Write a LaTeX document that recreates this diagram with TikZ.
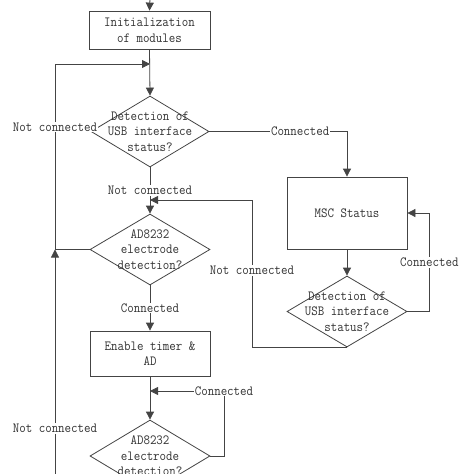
\documentclass[tikz,border=0pt]{standalone}
\usepackage{fontspec}
\newfontfamily\simfont[FakeStretch=0.9]{Latin Modern Mono}
\usetikzlibrary{arrows.meta,shapes.geometric}
\definecolor{ln}{HTML}{444444}
\definecolor{tx}{HTML}{333333}
\tikzset{
  every node/.style={font=\simfont\fontsize{14}{15.6}\selectfont, text=tx},
  box/.style={draw=ln, line width=0.8pt, rectangle, inner sep=0pt},
  dia/.style={draw=ln, line width=0.8pt, diamond, inner sep=0pt},
  txt/.style={align=center, inner sep=0pt},
  lbl/.style={fill=white, inner sep=1pt},
  conn/.style={draw=ln, line width=0.8pt},
  arr/.style={conn, -{Triangle[length=8pt,width=8pt]}},
}
\begin{document}
\begin{tikzpicture}[x=1pt,y=-1pt]
\clip (0,0) rectangle (474,474);
\fill[white] (0,0) rectangle (474,474);

\node[box, minimum width=121pt, minimum height=38pt] (init) at (149.5,30) {};
\node[txt] at (init) {Initialization\\of modules};

\node[dia, minimum width=118pt, minimum height=71pt] (d1) at (150,131.5) {};
\node[txt] at (d1) {Detection of\\USB interface\\status?};

\node[dia, minimum width=120pt, minimum height=71pt] (d2) at (150,249.5) {};
\node[txt] at (d2) {AD8232\\electrode\\detection?};

\node[box, minimum width=120pt, minimum height=45pt] (en) at (150,353.5) {};
\node[txt] at (en) {Enable timer \&\\AD};

\node[dia, minimum width=120pt, minimum height=72pt] (d3) at (150,456) {};
\node[txt] at (d3) {AD8232\\electrode\\detection?};

\node[box, minimum width=120pt, minimum height=72pt] (msc) at (347,213) {};
\node[txt] at (msc) {MSC Status};

\node[dia, minimum width=120pt, minimum height=71pt] (d4) at (347,311.5) {};
\node[txt] at (d4) {Detection of\\USB interface\\status?};

\coordinate (top) at (150,-2);
\coordinate (j1) at (150,64);
\coordinate (lb) at (55,476);
\coordinate (j2) at (55,249.5);
\coordinate (j3) at (150,200);
\coordinate (c4) at (224,391);
\coordinate (j4) at (150,391);

\draw[arr] (top) -- (init.north);
\draw[arr] (init.south) -- (d1.north);
\draw[arr] (lb) -- node[lbl, pos=0.21] {Not connected} (j2);
\draw[arr] (d2.west) -- (j2) |- node[lbl, pos=0.33] {Not connected} (j1);
\draw[arr] (d1.south) -- node[lbl] {Not connected} (d2.north);
\draw[arr] (d1.east) -| node[lbl, pos=0.33] {Connected} (msc.north);
\draw[arr] (msc.south) -- (d4.north);
\draw[arr] (d4.east) -- ++(22,0) |- node[lbl, pos=0.25] {Connected} (msc.east);
\draw[arr] (d4.south) -| node[lbl, pos=0.76] {Not connected} (252,200) -- (j3);
\draw[arr] (d2.south) -- node[lbl] {Connected} (en.north);
\draw[arr] (en.south) -- (d3.north);
\draw[arr] (d3.east) -| (c4) -- (j4);
\node[lbl] at (c4) {Connected};
\end{tikzpicture}
\end{document}
